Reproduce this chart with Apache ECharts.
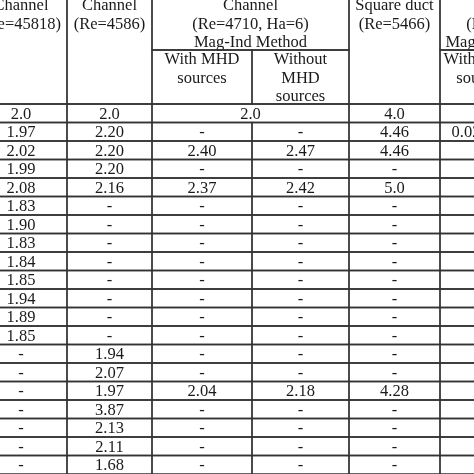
<!DOCTYPE html>
<html><head><meta charset="utf-8">
<script src="https://cdn.jsdelivr.net/npm/echarts@6/dist/echarts.min.js"></script>
<style>html,body{margin:0;padding:0;background:#fff}#c{width:474px;height:474px}</style>
</head><body><div id="c"></div>
<script>
// Column data (body rows)
const colRe45818 = ['2.0','1.97','2.02','1.99','2.08','1.83','1.90','1.83','1.84','1.85','1.94','1.89','1.85','-','-','-','-','-','-','-'];
const colRe4586  = ['2.0','2.20','2.20','2.20','2.16','-','-','-','-','-','-','-','-','1.94','2.07','1.97','3.87','2.13','2.11','1.68'];
const colWithMHD = ['2.0','-','2.40','-','2.37','-','-','-','-','-','-','-','-','-','-','2.04','-','-','-','-'];
const colWithout = ['2.0','-','2.47','-','2.42','-','-','-','-','-','-','-','-','-','-','2.18','-','-','-','-'];
const colSquare  = ['4.0','4.46','4.46','-','5.0','-','-','-','-','-','-','-','-','-','-','4.28','-','-','-','-'];
const colCut     = ['','0.02','','','','','','','','','','','','','','','','','',''];
const headers = ['Channel\n(Re=45818)','Channel\n(Re=4586)','Channel\n(Re=4710, Ha=6)\nMag-Ind Method','Square duct\n(Re=5466)','\n(Re=5466)\nMag-Ind Method'];
const subHeaders = ['With MHD\nsources','Without\nMHD\nsources','With MHD\nsources'];

// layout
const xEdges = [-25, 67, 152, 252, 349, 440, 564];
const headTop = -4, headMid = 50, headBot = 104, rowH = 18.5;

const cells = [];
function cell(x0,x1,y0,y1,text,top){cells.push([x0,x1,y0,y1,text,top?1:0]);}
cell(xEdges[0],xEdges[1],headTop,headBot,headers[0],true);
cell(xEdges[1],xEdges[2],headTop,headBot,headers[1],true);
cell(xEdges[2],xEdges[4],headTop,headMid,headers[2],true);
cell(xEdges[2],xEdges[3],headMid,headBot,subHeaders[0],true);
cell(xEdges[3],xEdges[4],headMid,headBot,subHeaders[1],true);
cell(xEdges[4],xEdges[5],headTop,headBot,headers[3],true);
cell(xEdges[5],xEdges[6],headTop,headMid,headers[4],true);
cell(xEdges[5],522,headMid,headBot,subHeaders[2],true);
const cols = [colRe45818,colRe4586,colWithMHD,colWithout,colSquare,colCut];
for(let r=0;r<colRe45818.length;r++){
  const y0=headBot+r*rowH, y1=y0+rowH;
  for(let c=0;c<cols.length;c++){
    if(r===0 && c===2){cell(xEdges[2],xEdges[4],y0,y1,colWithMHD[0],false);continue;}
    if(r===0 && c===3) continue;
    let x0=xEdges[c], x1=xEdges[c+1];
    if(c===5) x1=492;
    cell(x0,x1,y0,y1,cols[c][r],false);
  }
}

const chart = echarts.init(document.getElementById('c'));
chart.setOption({
  animation:false,
  grid:{left:0,right:0,top:0,bottom:0},
  xAxis:{type:'value',min:0,max:474,show:false},
  yAxis:{type:'value',min:0,max:474,inverse:true,show:false},
  series:[{
    type:'custom',
    data:cells,
    renderItem:(params,api)=>{
      const p0=api.coord([api.value(0),api.value(2)]);
      const p1=api.coord([api.value(1),api.value(3)]);
      const top=api.value(5)===1;
      const text=cells[params.dataIndex][4];
      return {type:'group',children:[
        {type:'rect',shape:{x:p0[0],y:p0[1],width:p1[0]-p0[0],height:p1[1]-p0[1]},
         style:{fill:'none',stroke:'#333',lineWidth:1.3}},
        {type:'text',x:(p0[0]+p1[0])/2,y:top?p0[1]+0.5:(p0[1]+p1[1])/2+1,
         style:{text:text,fill:'#1a1a1a',font:'16.5px "Liberation Serif", serif',
           align:'center',verticalAlign:top?'top':'middle',lineHeight:18.5}}
      ]};
    }
  }]
});
</script></body></html>
